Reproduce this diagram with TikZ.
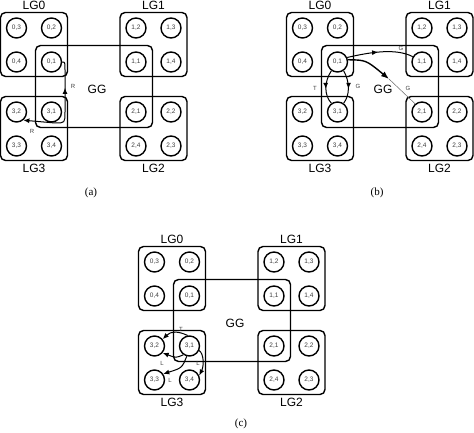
\documentclass[tikz,border=0pt]{standalone}
\usepackage{fontspec}
\setmainfont{Liberation Serif}
\setsansfont{Liberation Sans}
\usetikzlibrary{positioning,arrows.meta,decorations.markings}
\tikzset{
  % Specifications for style of nodes:
  base/.style = {
    rectangle,
    rounded corners=5pt,
    draw=black,
    line width=1.4pt
  },
  lgbox/.style = {
    base,
    minimum width=67pt,
    minimum height=64pt
  },
  ggbox/.style = {
    base,
    minimum width=117pt,
    minimum height=82pt
  },
  pe/.style = {
    circle,
    draw=black,
    line width=1.4pt,
    minimum size=20pt,
    inner sep=0pt,
    on grid,
    text=black!75,
    font=\fontsize{6.5}{7}\selectfont\sffamily
  },
  tag/.style = {
    inner sep=0pt,
    text=black!75,
    font=\fontsize{6}{6}\selectfont\sffamily
  },
  ggtext/.style = {font=\fontsize{12}{13}\selectfont\sffamily},
  captext/.style = {font=\fontsize{11}{13}\selectfont},
  % Specifications for style of connectors:
  route/.style = {line width=1pt, -{Latex[length=6pt,width=5pt]}},
  midarrow/.style = {
    postaction={decorate},
    decoration={markings, mark=at position #1 with {\arrow{Latex[length=6pt,width=5pt]}}}
  },
  midback/.style = {
    postaction={decorate},
    decoration={markings, mark=at position #1 with {\arrowreversed{Latex[length=6pt,width=5pt]}}}
  },
}
\def\pegroup#1#2#3#4#5#6#7{
  \node[pe, above left=16.5pt and 17.5pt of #1] (#2p#3#4) {#3,#4};
  \node[pe, right=35pt of #2p#3#4] (#2p#3#5) {#3,#5};
  \node[pe, below=34pt of #2p#3#4] (#2p#3#6) {#3,#6};
  \node[pe, right=35pt of #2p#3#6] (#2p#3#7) {#3,#7};
}
\def\panel#1#2#3{
  \begin{scope}[shift={(#2,#3)}]
    \node[lgbox, label={above:LG0}] (#1lg0) at (34,44.5)    {};
    \node[lgbox, label={above:LG1}] (#1lg1) at (153.5,44.5) {};
    \node[lgbox, label={below:LG3}] (#1lg3) at (34,128.5)   {};
    \node[lgbox, label={below:LG2}] (#1lg2) at (153.5,128.5) {};
    \node[ggbox] (#1gg) at (94,86.5) {};
    \node[ggtext] (#1ggt) at (97,89) {GG};
    \pegroup{#1lg0}{#1}{0}{3}{2}{4}{1}
    \pegroup{#1lg1}{#1}{1}{2}{3}{1}{4}
    \pegroup{#1lg3}{#1}{3}{2}{1}{3}{4}
    \pegroup{#1lg2}{#1}{2}{1}{2}{4}{3}
  \end{scope}
}
\begin{document}
\begin{tikzpicture}[x=1pt, y=-1pt,
  every label/.style={font=\fontsize{12}{13}\selectfont\sffamily, label distance=-1pt}]
    \useasboundingbox (0,0) rectangle (474,433);
    % the three panels
    \panel{a}{0}{0}
    \panel{b}{286}{0}
    \panel{c}{138}{234}
    % (a) routes
    \begin{scope}
      \draw[route, midback=0.27] (ap01.east) .. controls (65,62) .. (65,70) -- (65,112)
        .. controls (65,123) .. (55,123) -- (ap32.-50);
      \node[tag] (ra1) at (73,86) {R};
      \node[tag] (ra2) at (32,131) {R};
    \end{scope}
    % (b) routes
    \begin{scope}[shift={(286,0)}]
      \draw[line width=1pt, midarrow=0.47] (bp01.25) .. controls (85,52) and (110,48) .. (bp11.150);
      \coordinate (bgg) at (103,79);
      \draw[line width=1.4pt, -{Latex[length=8pt,width=6pt]}] (bp01.12) .. controls (80,60) .. (bgg);
      \draw[black!60, line width=0.5pt] (bgg) -- (bp21.130);
      \draw[line width=1pt, midarrow=0.55] (bp01.235) .. controls (38,82) and (38,95) .. (bp31.125);
      \draw[line width=1pt, midarrow=0.55] (bp01.-55) .. controls (64,82) and (64,95) .. (bp31.55);
      \node[tag] (gb1) at (115,48) {G};
      \node[tag] (gb2) at (122,88) {G};
      \node[tag] (tb1) at (29,88) {T};
      \node[tag] (gb3) at (72,86) {G};
    \end{scope}
    % (c) routes
    \begin{scope}[shift={(138,234)}]
      \draw[route] (cp31.100) .. controls (40,97) and (33,97) .. (cp32.40);
      \draw[route] (cp31.235) .. controls (38,124) .. (cp32.-40);
      \draw[route] (cp31.255) .. controls (44,134) .. (cp33.35);
      \draw[route] (cp31.-25) .. controls (66,120) and (66,132) .. (cp34.25);
      \node[tag] (tc1) at (43,95) {T};
      \node[tag] (lc1) at (24,129) {L};
      \node[tag] (lc2) at (32,146) {L};
      \node[tag] (lc3) at (60,129) {L};
    \end{scope}
    % captions
    \node[captext] (capa) at (91,193)  {(a)};
    \node[captext] (capb) at (377,193) {(b)};
    \node[captext] (capc) at (241,424) {(c)};
\end{tikzpicture}
\end{document}
